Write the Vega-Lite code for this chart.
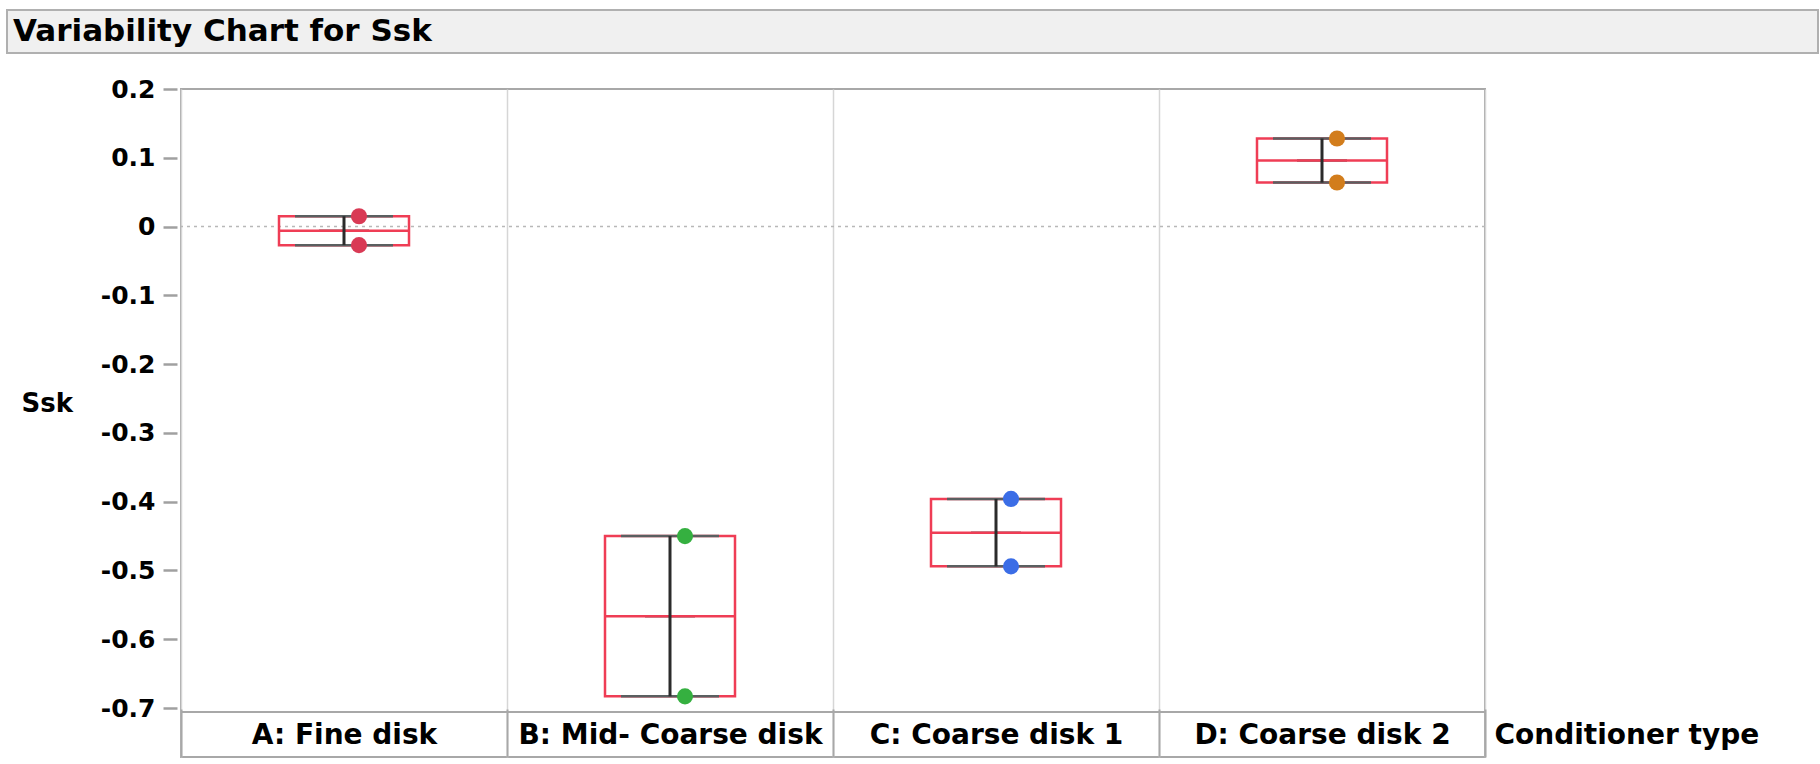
{
  "$schema": "https://vega.github.io/schema/vega-lite/v6.json",
  "background": "white",
  "padding": {"left": 6, "top": 9, "right": 0, "bottom": 0},
  "config": {
    "font": "DejaVu Sans",
    "view": {"stroke": null}
  },
  "spacing": 22,
  "vconcat": [
    {
      "width": 1811,
      "height": 43,
      "data": {"values": [{"t": "Variability Chart for Ssk"}]},
      "layer": [
        {
          "mark": {"type": "rect", "fill": "#f0f0f0", "stroke": "#b0b0b0", "strokeWidth": 2},
          "encoding": {}
        },
        {
          "mark": {"type": "text", "align": "left", "baseline": "middle", "dx": 6, "font": "DejaVu Sans", "fontSize": 31, "fontWeight": "bold", "color": "#000000"},
          "encoding": {
            "text": {"field": "t"},
            "x": {"datum": 0, "type": "quantitative", "scale": {"domain": [0, 1]}, "axis": null}
          }
        }
      ]
    },
    {
      "spacing": 0,
      "hconcat": [
        {
          "width": 1,
          "height": 1,
          "data": {"values": []},
          "mark": {"type": "point", "opacity": 0},
          "encoding": {}
        },
        {
          "width": 1304,
          "height": 668,
          "view": {"stroke": "#a8a8a8", "strokeWidth": 2},
          "data": {
            "values": [
              {"cond": "A: Fine disk", "ssk": 0.015},
              {"cond": "A: Fine disk", "ssk": -0.027},
              {"cond": "B: Mid- Coarse disk", "ssk": -0.45},
              {"cond": "B: Mid- Coarse disk", "ssk": -0.683},
              {"cond": "C: Coarse disk 1", "ssk": -0.396},
              {"cond": "C: Coarse disk 1", "ssk": -0.494},
              {"cond": "D: Coarse disk 2", "ssk": 0.128},
              {"cond": "D: Coarse disk 2", "ssk": 0.064}
            ]
          },
          "encoding": {
            "x": {
              "field": "cond",
              "type": "nominal",
              "sort": ["A: Fine disk", "B: Mid- Coarse disk", "C: Coarse disk 1", "D: Coarse disk 2"],
              "scale": {"type": "band", "paddingInner": 0, "paddingOuter": 0},
              "axis": {
                "orient": "bottom",
                "title": "Conditioner type",
                "titleX": 1313,
                "titleY": -22,
                "titleAlign": "left",
                "titleBaseline": "middle",
                "titleAngle": 0,
                "titleFont": "DejaVu Sans",
                "titleFontSize": 28,
                "titleFontWeight": "bold",
                "titleColor": "#000000",
                "domain": false,
                "ticks": true,
                "tickBand": "extent",
                "tickSize": -48,
                "tickColor": "#a8a8a8",
                "tickWidth": 2,
                "grid": true,
                "gridColor": "#d6d6d6",
                "gridWidth": 1.5,
                "labelAngle": 0,
                "labelLimit": 0,
                "labelFont": "DejaVu Sans",
                "labelFontSize": 28,
                "labelFontWeight": "bold",
                "labelColor": "#000000",
                "labelBaseline": "middle",
                "labelPadding": 26
              }
            },
            "y": {
              "field": "ssk",
              "type": "quantitative",
              "scale": {"domain": [-0.7712, 0.2], "nice": false, "zero": false},
              "axis": {
                "values": [0.2, 0.1, 0, -0.1, -0.2, -0.3, -0.4, -0.5, -0.6, -0.7],
                "labelExpr": "datum.value == 0 ? '0' : replace(format(datum.value, '.1f'), '\u2212', '-')",
                "orient": "left",
                "offset": 4,
                "minExtent": 168,
                "domain": false,
                "grid": false,
                "tickSize": 14,
                "tickColor": "#a0a0a0",
                "tickWidth": 2.5,
                "labelFont": "DejaVu Sans",
                "labelFontSize": 25,
                "labelFontWeight": "bold",
                "labelColor": "#000000",
                "labelPadding": 8,
                "title": "Ssk",
                "titleAngle": 0,
                "titleX": -156,
                "titleY": 314,
                "titleAlign": "left",
                "titleBaseline": "middle",
                "titleFont": "DejaVu Sans",
                "titleFontSize": 26,
                "titleFontWeight": "bold",
                "titleColor": "#000000"
              }
            }
          },
          "layer": [
            {
              "data": {"values": [{"ref": 0}]},
              "mark": {"type": "rule", "color": "#b8b8b8", "strokeWidth": 1.5, "strokeDash": [3, 4]},
              "encoding": {"x": null, "y": {"field": "ref", "type": "quantitative"}}
            },
            {
              "data": {"values": [{"edge": -0.7058}]},
              "mark": {"type": "rule", "color": "#a8a8a8", "strokeWidth": 2},
              "encoding": {"x": null, "y": {"field": "edge", "type": "quantitative"}}
            },
            {
              "transform": [
                {"aggregate": [
                  {"op": "min", "field": "ssk", "as": "lo"},
                  {"op": "max", "field": "ssk", "as": "hi"},
                  {"op": "median", "field": "ssk", "as": "med"}
                ], "groupby": ["cond"]}
              ],
              "layer": [
                {
                  "mark": {"type": "bar", "width": 130, "fill": "white", "fillOpacity": 0, "stroke": "#ef3d55", "strokeWidth": 2.5},
                  "encoding": {
                    "y": {"field": "lo", "type": "quantitative"},
                    "y2": {"field": "hi"}
                  }
                },
                {
                  "mark": {"type": "tick", "size": 50, "thickness": 2.5, "color": "#5a5f60", "opacity": 1},
                  "encoding": {"y": {"field": "med", "type": "quantitative"}}
                },
                {
                  "mark": {"type": "tick", "size": 130, "thickness": 2.5, "color": "#ef3d55", "opacity": 1},
                  "encoding": {"y": {"field": "med", "type": "quantitative"}}
                }
              ]
            },
            {
              "mark": {"type": "tick", "size": 98, "thickness": 2.5, "color": "#5a5f60", "opacity": 1},
              "encoding": {}
            },
            {
              "transform": [
                {"aggregate": [
                  {"op": "min", "field": "ssk", "as": "lo"},
                  {"op": "max", "field": "ssk", "as": "hi"}
                ], "groupby": ["cond"]}
              ],
              "mark": {"type": "rule", "color": "#2b2b2b", "strokeWidth": 3},
              "encoding": {
                "y": {"field": "lo", "type": "quantitative"},
                "y2": {"field": "hi"}
              }
            },
            {
              "mark": {"type": "point", "filled": true, "size": 260, "opacity": 1, "xOffset": 15},
              "encoding": {
                "color": {
                  "field": "cond",
                  "type": "nominal",
                  "scale": {
                    "domain": ["A: Fine disk", "B: Mid- Coarse disk", "C: Coarse disk 1", "D: Coarse disk 2"],
                    "range": ["#d93a55", "#35b040", "#3b6de6", "#d27d1c"]
                  },
                  "legend": null
                }
              }
            }
          ]
        }
      ]
    }
  ]
}
